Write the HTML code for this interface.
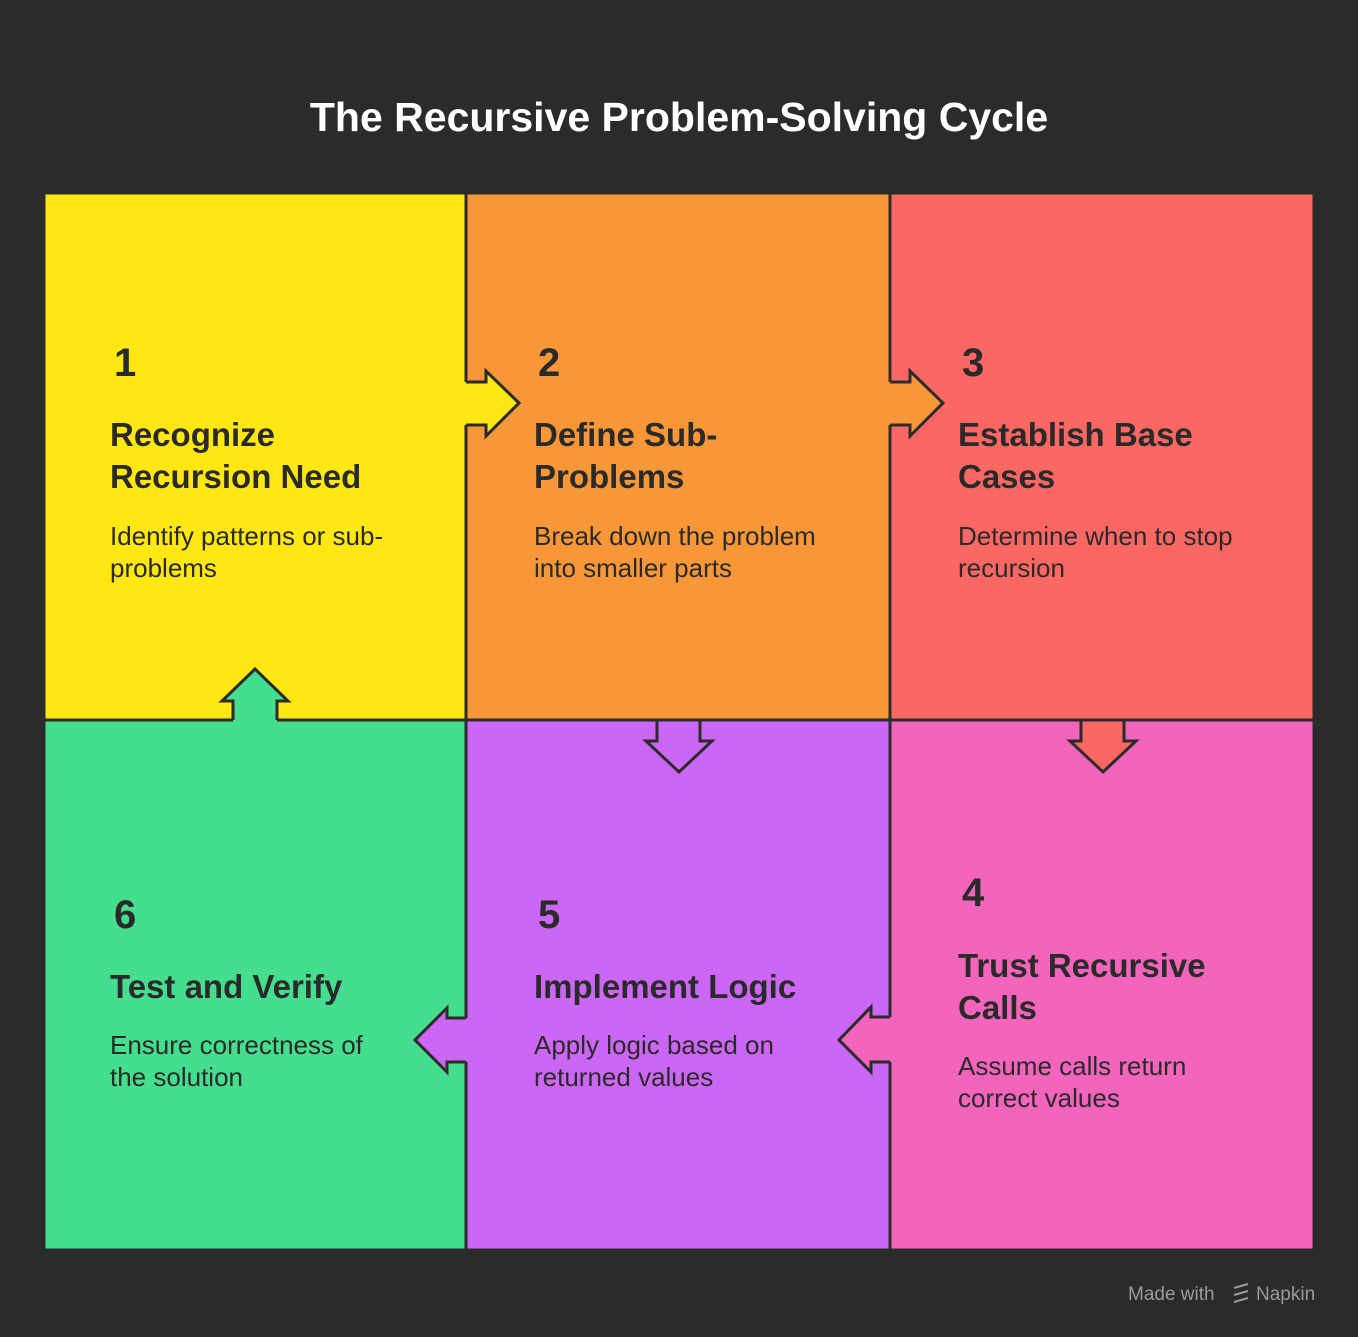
<!DOCTYPE html>
<html><head><meta charset="utf-8"><style>
html,body{margin:0;padding:0;background:#2b2b2b;}
svg{display:block}
text{font-family:"Liberation Sans",Arial,sans-serif;fill:#2a2a2a}
.n{font-size:40px;font-weight:bold}
.t{font-size:33px;font-weight:bold}
.d{font-size:26px}
</style></head><body>
<svg width="1358" height="1337" viewBox="0 0 1358 1337" xmlns="http://www.w3.org/2000/svg">
<rect width="1358" height="1337" fill="#2b2b2b"/>
<text x="679" y="131" text-anchor="middle" style="font-size:41px;font-weight:bold;fill:#fff">The Recursive Problem-Solving Cycle</text>
<g stroke="#2b2b2b" stroke-width="3">
<rect x="44" y="193" width="422" height="527" fill="#FFE714"/>
<rect x="466" y="193" width="424" height="527" fill="#F79737"/>
<rect x="890" y="193" width="424" height="527" fill="#FB6762"/>
<rect x="44" y="720" width="422" height="530" fill="#45DD8E"/>
<rect x="466" y="720" width="424" height="530" fill="#CC66F5"/>
<rect x="890" y="720" width="424" height="530" fill="#F364BC"/>
</g>
<g stroke-linejoin="miter">
<polygon points="460,382 486,382 486,371 519,403 486,436 486,425 460,425" fill="#FFE714"/>
<polyline points="466,382 486,382 486,371 519,403 486,436 486,425 466,425" fill="none" stroke="#2b2b2b" stroke-width="3"/>
<polygon points="884,382 910,382 910,371 943,403 910,436 910,425 884,425" fill="#F79737"/>
<polyline points="890,382 910,382 910,371 943,403 910,436 910,425 890,425" fill="none" stroke="#2b2b2b" stroke-width="3"/>
<polygon points="657,722 657,741 646,741 679,772 712,741 700,741 700,722" fill="#CC66F5"/>
<polyline points="657,720 657,741 646,741 679,772 712,741 700,741 700,720" fill="none" stroke="#2b2b2b" stroke-width="3"/>
<polygon points="1081,722 1081,741 1070,741 1103,772 1136,741 1124,741 1124,722" fill="#FB6762"/>
<polyline points="1081,720 1081,741 1070,741 1103,772 1136,741 1124,741 1124,720" fill="none" stroke="#2b2b2b" stroke-width="3"/>
<polygon points="896,1017 871,1017 871,1007 839,1040 871,1072 871,1062 896,1062" fill="#F364BC"/>
<polyline points="890,1017 871,1017 871,1007 839,1040 871,1072 871,1062 890,1062" fill="none" stroke="#2b2b2b" stroke-width="3"/>
<polygon points="472,1018 447,1018 447,1008 415,1040 447,1072 447,1062 472,1062" fill="#CC66F5"/>
<polyline points="466,1018 447,1018 447,1008 415,1040 447,1072 447,1062 466,1062" fill="none" stroke="#2b2b2b" stroke-width="3"/>
<polygon points="233,726 233,701 222,701 255,669 288,701 277,701 277,726" fill="#45DD8E"/>
<polyline points="233,720 233,701 222,701 255,669 288,701 277,701 277,720" fill="none" stroke="#2b2b2b" stroke-width="3"/>
</g>
<text class="n" x="114" y="376">1</text>
<text class="t" x="110" y="446">Recognize</text>
<text class="t" x="110" y="488">Recursion Need</text>
<text class="d" x="110" y="545">Identify patterns or sub-</text>
<text class="d" x="110" y="577">problems</text>
<text class="n" x="538" y="376">2</text>
<text class="t" x="534" y="446">Define Sub-</text>
<text class="t" x="534" y="488">Problems</text>
<text class="d" x="534" y="545">Break down the problem</text>
<text class="d" x="534" y="577">into smaller parts</text>
<text class="n" x="962" y="376">3</text>
<text class="t" x="958" y="446">Establish Base</text>
<text class="t" x="958" y="488">Cases</text>
<text class="d" x="958" y="545">Determine when to stop</text>
<text class="d" x="958" y="577">recursion</text>
<text class="n" x="114" y="928">6</text>
<text class="t" x="110" y="998">Test and Verify</text>
<text class="d" x="110" y="1054">Ensure correctness of</text>
<text class="d" x="110" y="1086">the solution</text>
<text class="n" x="538" y="928">5</text>
<text class="t" x="534" y="998">Implement Logic</text>
<text class="d" x="534" y="1054">Apply logic based on</text>
<text class="d" x="534" y="1086">returned values</text>
<text class="n" x="962" y="906">4</text>
<text class="t" x="958" y="977">Trust Recursive</text>
<text class="t" x="958" y="1019">Calls</text>
<text class="d" x="958" y="1075">Assume calls return</text>
<text class="d" x="958" y="1107">correct values</text>
<text x="1128" y="1300" style="font-size:19px;fill:#9a9a9a">Made with</text>
<g stroke="#9a9a9a" stroke-width="2" fill="none"><path d="M1234 1288 l14 -4 M1234 1295 l14 -4 M1234 1302 l14 -4"/></g>
<text x="1256" y="1300" style="font-size:19px;fill:#9a9a9a">Napkin</text>
</svg>
</body></html>
